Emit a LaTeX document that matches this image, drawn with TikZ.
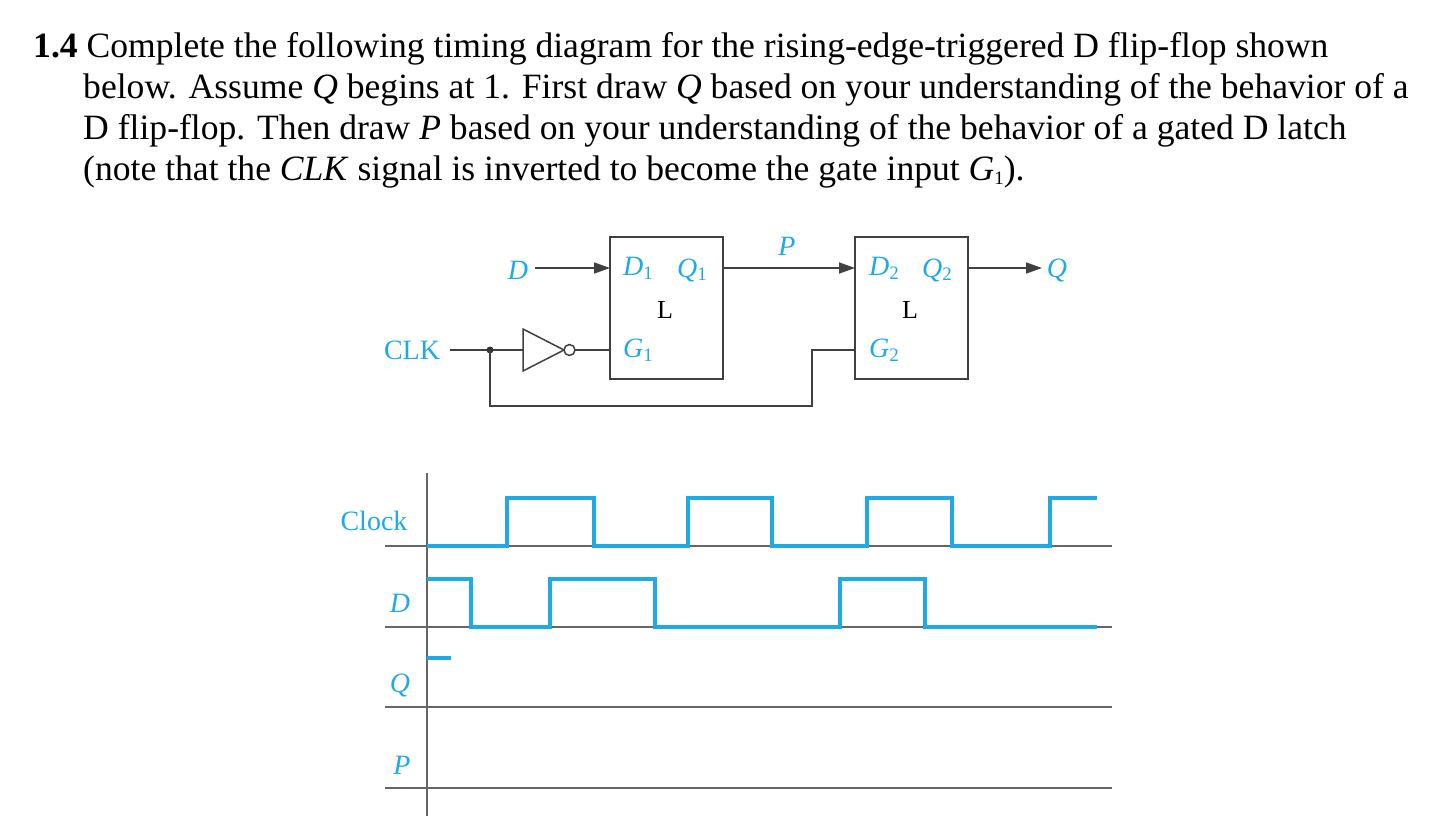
\documentclass[tikz,border=0pt]{standalone}
\usepackage{fontspec}
\setmainfont{Liberation Serif}
\usetikzlibrary{arrows.meta}
\definecolor{sig}{RGB}{30,170,230}
\newcommand{\sbx}[2]{\textit{#1}\raisebox{-0.3ex}{\fontsize{19}{20}\selectfont #2}}
\tikzset{
  txt/.style={anchor=base west,inner sep=0pt,font=\fontsize{35.6}{40}\selectfont},
  lab/.style={text=sig,inner sep=0pt,font=\fontsize{28}{30}\selectfont},
  wire/.style={line width=1.5pt,draw=black!75},
  arr/.style={wire,-{Triangle[length=16pt,width=11pt]}},
  wave/.style={line width=4pt,draw=sig},
  axis/.style={line width=2pt,draw=black!60}
}
\begin{document}
\begin{tikzpicture}[x=1pt,y=-1pt]
\useasboundingbox (0,0) rectangle (1451,833);
% question text
\node[txt] (l1) at (33,57) {\textbf{1.4} Complete the following timing diagram for the rising-edge-triggered D flip-flop shown};
\node[txt] (l2) at (83,98) {below. Assume \textit{Q} begins at 1. First draw \textit{Q} based on your understanding of the behavior of a};
\node[txt] (l3) at (83,139) {D flip-flop. Then draw \textit{P} based on your understanding of the behavior of a gated D latch};
\node[txt] (l4) at (83,180) {(note that the \textit{CLK} signal is inverted to become the gate input \sbx{G}{1}).};
% circuit
\node[draw,line width=2pt,draw=black!75,minimum width=113pt,minimum height=142pt,inner sep=0pt] (b1) at (666.5,308) {};
\node[draw,line width=2pt,draw=black!75,minimum width=113pt,minimum height=142pt,inner sep=0pt] (b2) at (911.5,308) {};
\node[lab] (d1) at (638,268) {\sbx{D}{1}};
\node[lab] (q1) at (692,270) {\sbx{Q}{1}};
\node[inner sep=0pt,font=\fontsize{26}{28}\selectfont] (L1) at (665,310) {L};
\node[lab] (g1) at (638,350) {\sbx{G}{1}};
\node[lab] (d2) at (884,268) {\sbx{D}{2}};
\node[lab] (q2) at (937,270) {\sbx{Q}{2}};
\node[inner sep=0pt,font=\fontsize{26}{28}\selectfont] (L2) at (910,310) {L};
\node[lab] (g2) at (884,350) {\sbx{G}{2}};
\node[lab] (Din) at (518,270) {\textit{D}};
\node[lab] (Pl) at (787,246) {\textit{P}};
\node[lab] (Qo) at (1057,270) {\textit{Q}};
\node[lab] (clk) at (412,350) {CLK};
\coordinate (dinS) at (535,268);
\coordinate (b1in) at (610,268);
\coordinate (b1out) at (723,268);
\coordinate (b2in) at (855,268);
\coordinate (b2out) at (968,268);
\coordinate (qend) at (1042,268);
\draw[arr] (dinS) -- (b1in);
\draw[arr] (b1out) -- (b2in);
\draw[arr] (b2out) -- (qend);
\coordinate (clkS) at (450,350);
\coordinate (dot) at (490,350);
\coordinate (invIn) at (523,350);
\draw[wire] (clkS) -- (invIn);
\fill[black!80] (dot) circle (3.5pt);
\draw[wire,fill=white] (523,329) -- (564,350) -- (523,371) -- cycle;
\draw[wire,fill=white] (569.5,350) circle (5.5pt);
\coordinate (bubR) at (575,350);
\coordinate (g1in) at (610,350);
\draw[wire] (bubR) -- (g1in);
\coordinate (g2in) at (855,350);
\draw[wire] (dot) -- (490,406) -- (812,406) -- (812,350) -- (g2in);
% timing
\draw[axis] (427,473) -- (427,816);
\foreach \yy in {546,627,707,788} \draw[axis] (385,\yy) -- (1112,\yy);
\node[lab] (lc) at (374,521) {Clock};
\node[lab] (ld) at (400,603) {\textit{D}};
\node[lab] (lq) at (400,685) {\textit{Q}};
\node[lab] (lp) at (402,765) {\textit{P}};
\draw[wave] (427,546) -- (507,546) -- (507,498) -- (594,498) -- (594,546) -- (688,546) -- (688,498) -- (772,498) -- (772,546) -- (867,546) -- (867,498) -- (952,498) -- (952,546) -- (1050,546) -- (1050,498) -- (1097,498);
\draw[wave] (427,579) -- (471,579) -- (471,627) -- (550,627) -- (550,579) -- (655,579) -- (655,627) -- (840,627) -- (840,579) -- (925,579) -- (925,627) -- (1097,627);
\draw[wave] (427,658) -- (451,658);
\end{tikzpicture}
\end{document}
